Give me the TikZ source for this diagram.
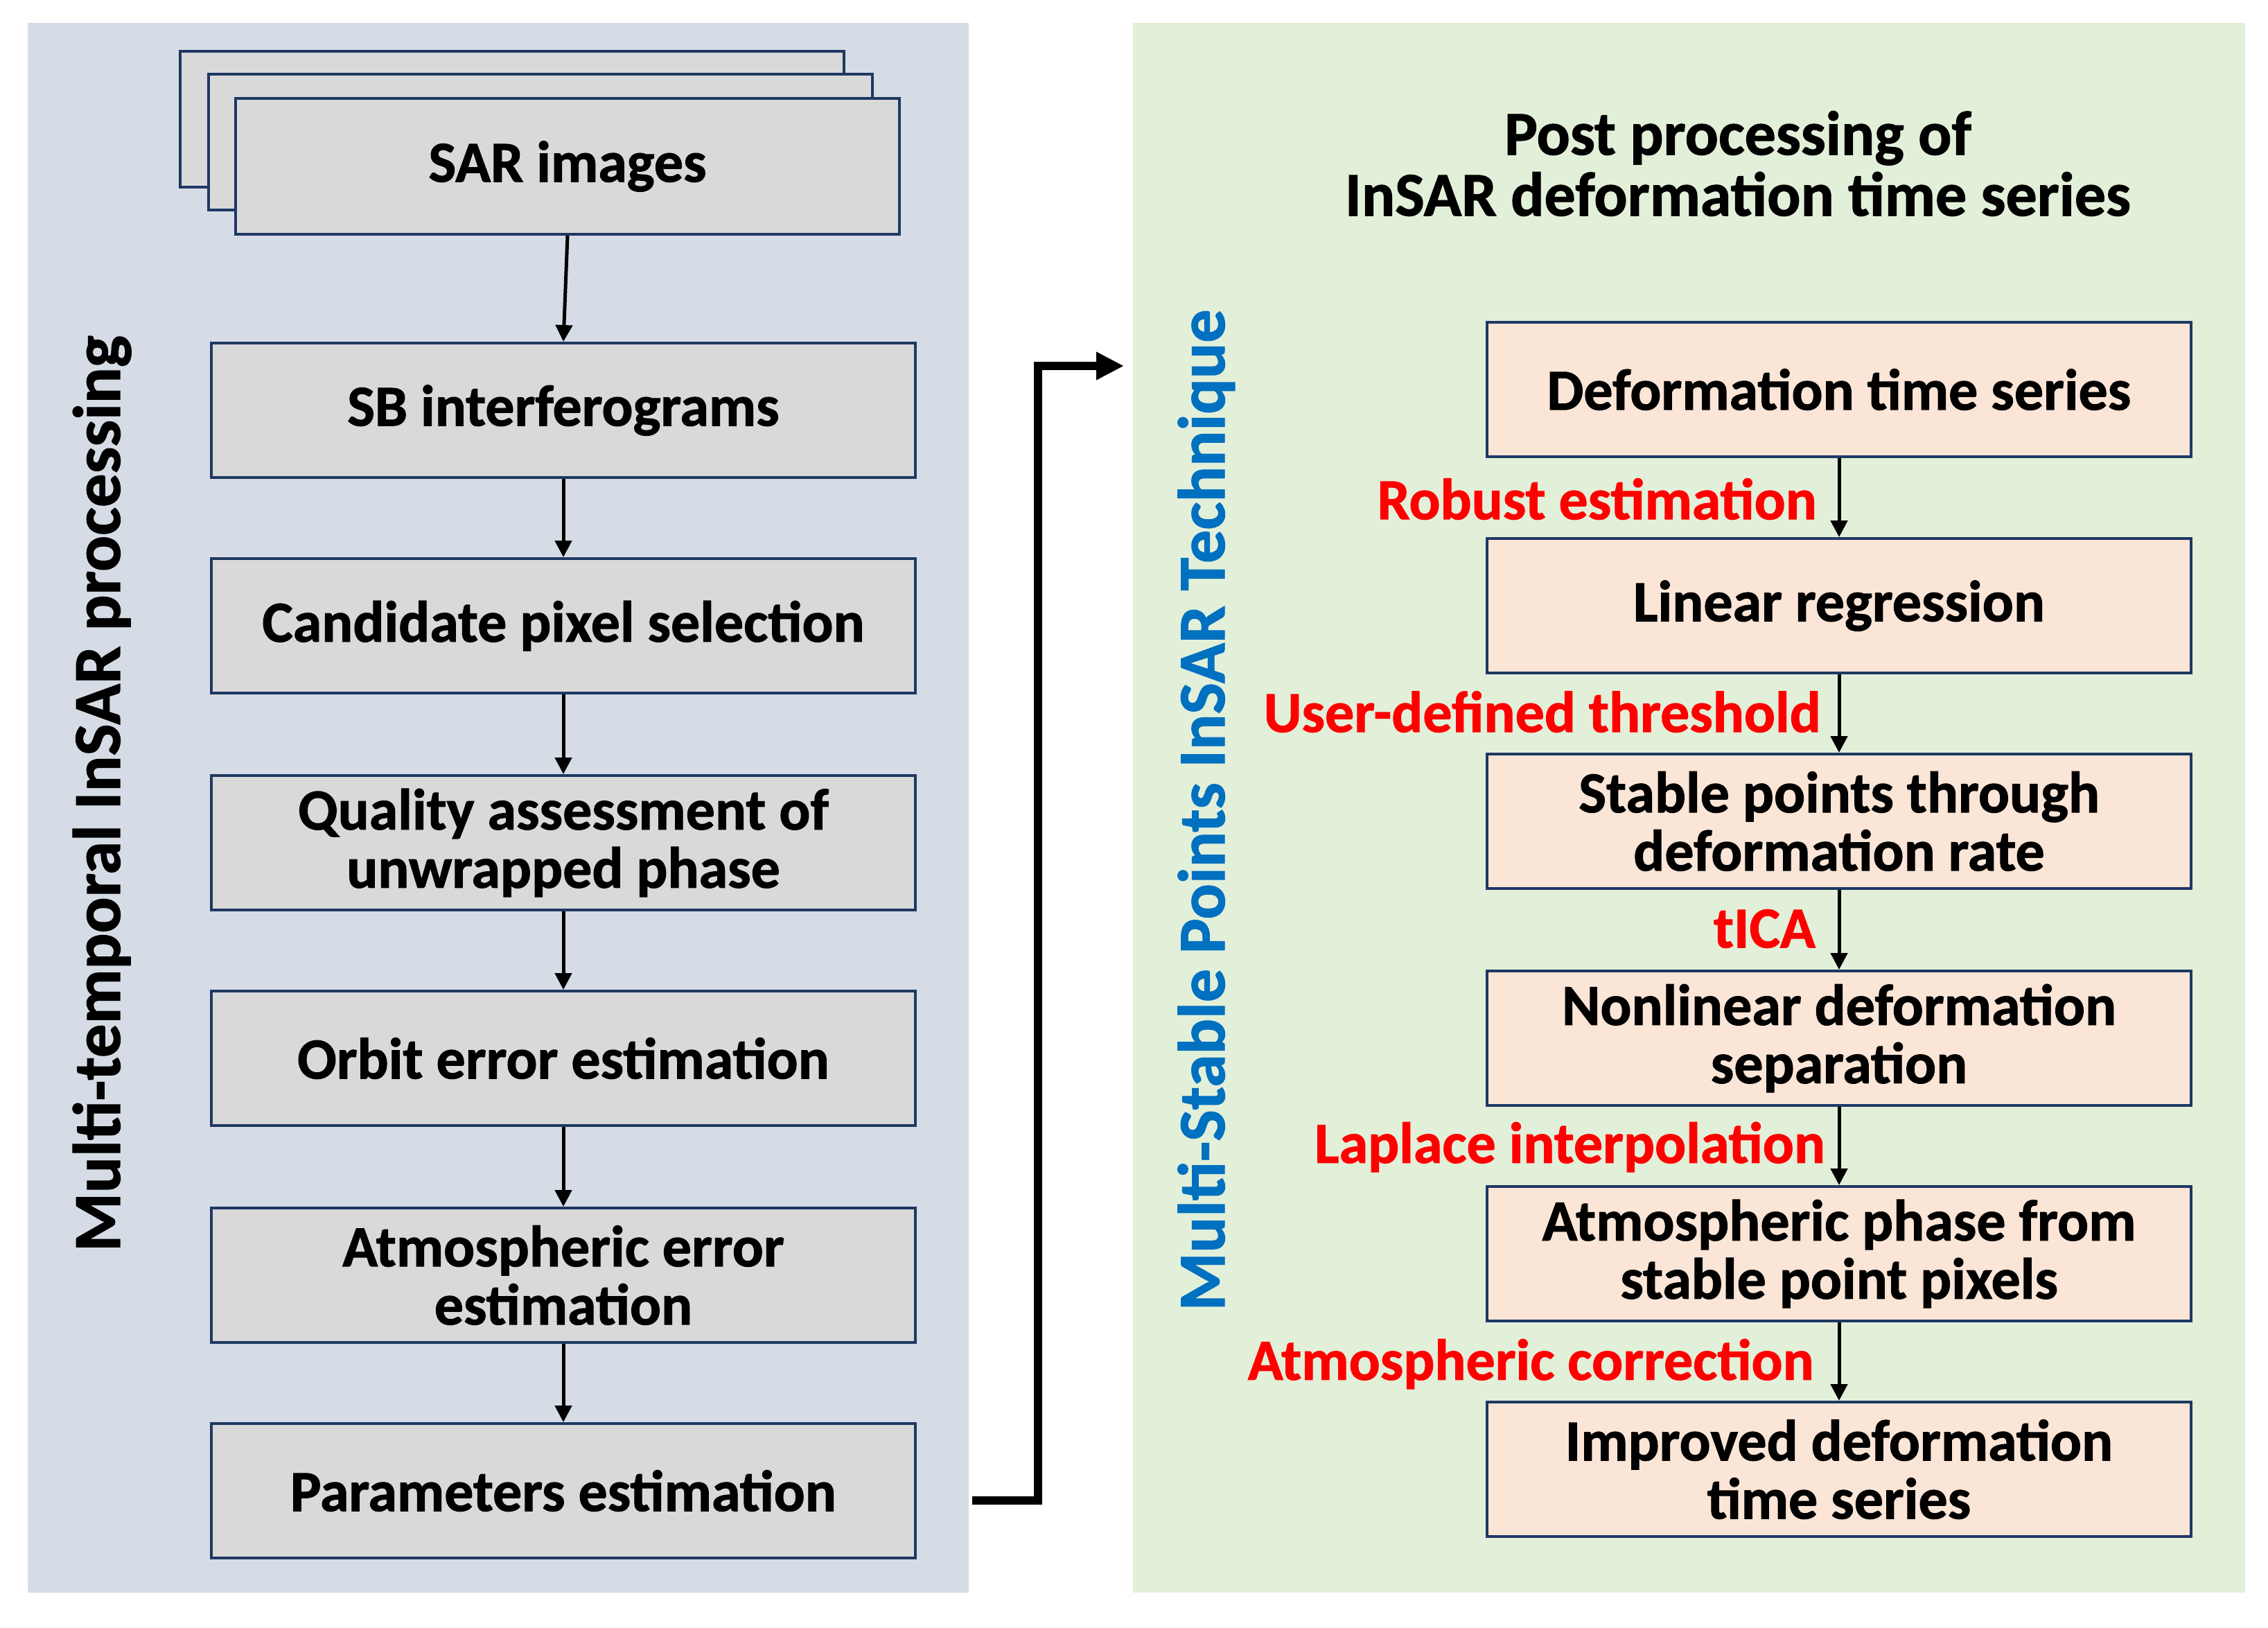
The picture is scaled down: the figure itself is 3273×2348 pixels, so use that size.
\documentclass[tikz,border=0pt]{standalone}
\usepackage{fontspec}
\setmainfont{Carlito}[BoldFeatures={FakeBold=1.2}]
\usetikzlibrary{arrows.meta}
\definecolor{leftbg}{RGB}{214,220,229}
\definecolor{rightbg}{RGB}{226,240,217}
\definecolor{boxgray}{RGB}{217,217,217}
\definecolor{boxpeach}{RGB}{251,229,214}
\definecolor{navy}{RGB}{31,56,100}
\definecolor{titleblue}{RGB}{0,112,192}
\definecolor{labelred}{RGB}{255,0,0}
\begin{document}
\begin{tikzpicture}[x=1pt,y=-1pt,
  boxfont/.style={font=\fontsize{84}{84}\selectfont\bfseries},
  basebox/.style={draw=navy, line width=4pt, minimum width=1016pt, minimum height=194pt,
    inner sep=0pt, align=center, boxfont},
  graybox/.style={basebox, fill=boxgray},
  peachbox/.style={basebox, fill=boxpeach},
  stackbox/.style={draw=navy, line width=4pt, fill=boxgray, minimum width=958pt,
    minimum height=196pt, inner sep=0pt, align=center, boxfont},
  flow/.style={-{Triangle[length=24pt,width=24pt]}, line width=5pt, black},
  bigflow/.style={-{Triangle[length=40pt,width=38pt]}, line width=12pt, black, line join=miter},
  redlabel/.style={anchor=east, inner sep=0pt, text=labelred, boxfont},
  sidetitle/.style={rotate=90, anchor=base, inner sep=0pt, font=\fontsize{97}{97}\selectfont\bfseries}
]
\useasboundingbox (0,0) rectangle (3273,2348);
\fill[white] (0,0) rectangle (3273,2348);

% panels
\fill[leftbg] (40,33) rectangle (1398,2298);
\fill[rightbg] (1635,33) rectangle (3240,2298);

% left side title
\node[sidetitle] (lefttitle) at (173,1145) {Multi-temporal InSAR processing};

% stacked SAR images
\node[stackbox] (stackA) at (739,172) {};
\node[stackbox] (stackB) at (780,205) {};
\node[stackbox] (sar) at (819,240) {SAR images};

% left flow boxes
\node[graybox] (sb) at (813,592) {SB interferograms};
\node[graybox] (cand) at (813,903) {Candidate pixel selection};
\node[graybox] (qual) at (813,1216) {Quality assessment of\\unwrapped phase};
\node[graybox] (orbit) at (813,1527) {Orbit error estimation};
\node[graybox] (atm) at (813,1840) {Atmospheric error\\estimation};
\node[graybox] (param) at (813,2151) {Parameters estimation};

\draw[flow] (sar.south) -- (sb.north);
\draw[flow] (sb) -- (cand);
\draw[flow] (cand) -- (qual);
\draw[flow] (qual) -- (orbit);
\draw[flow] (orbit) -- (atm);
\draw[flow] (atm) -- (param);

% connector between panels
\coordinate (cstart) at (1403,2165);
\coordinate (cbend) at (1498,528);
\coordinate (cend) at (1622,528);
\draw[bigflow] (cstart) -| (cbend) -- (cend);

% right panel
\node[align=center, inner sep=0pt, font=\fontsize{90}{88}\selectfont\bfseries] (rtitle) at (2508,236)
  {Post processing of\\InSAR deformation time series};
\node[sidetitle, text=titleblue, font=\fontsize{96}{96}\selectfont\bfseries] (righttitle) at (1767,1169)
  {Multi-Stable Points InSAR Technique};

\node[peachbox] (dts) at (2654,562) {Deformation time series};
\node[peachbox] (lr) at (2654,874) {Linear regression};
\node[peachbox] (sp) at (2654,1185) {Stable points through\\deformation rate};
\node[peachbox] (nl) at (2654,1498) {Nonlinear deformation\\separation};
\node[peachbox] (ap) at (2654,1809) {Atmospheric phase from\\stable point pixels};
\node[peachbox] (idts) at (2654,2120) {Improved deformation\\time series};

\draw[flow] (dts) -- (lr);
\draw[flow] (lr) -- (sp);
\draw[flow] (sp) -- (nl);
\draw[flow] (nl) -- (ap);
\draw[flow] (ap) -- (idts);

\node[redlabel] (l1) at (2622,720) {Robust estimation};
\node[redlabel] (l2) at (2628,1027) {User-defined threshold};
\node[redlabel] (l3) at (2620,1340) {tICA};
\node[redlabel] (l4) at (2634,1655) {Laplace interpolation};
\node[redlabel] (l5) at (2618,1968) {Atmospheric correction};
\end{tikzpicture}
\end{document}
